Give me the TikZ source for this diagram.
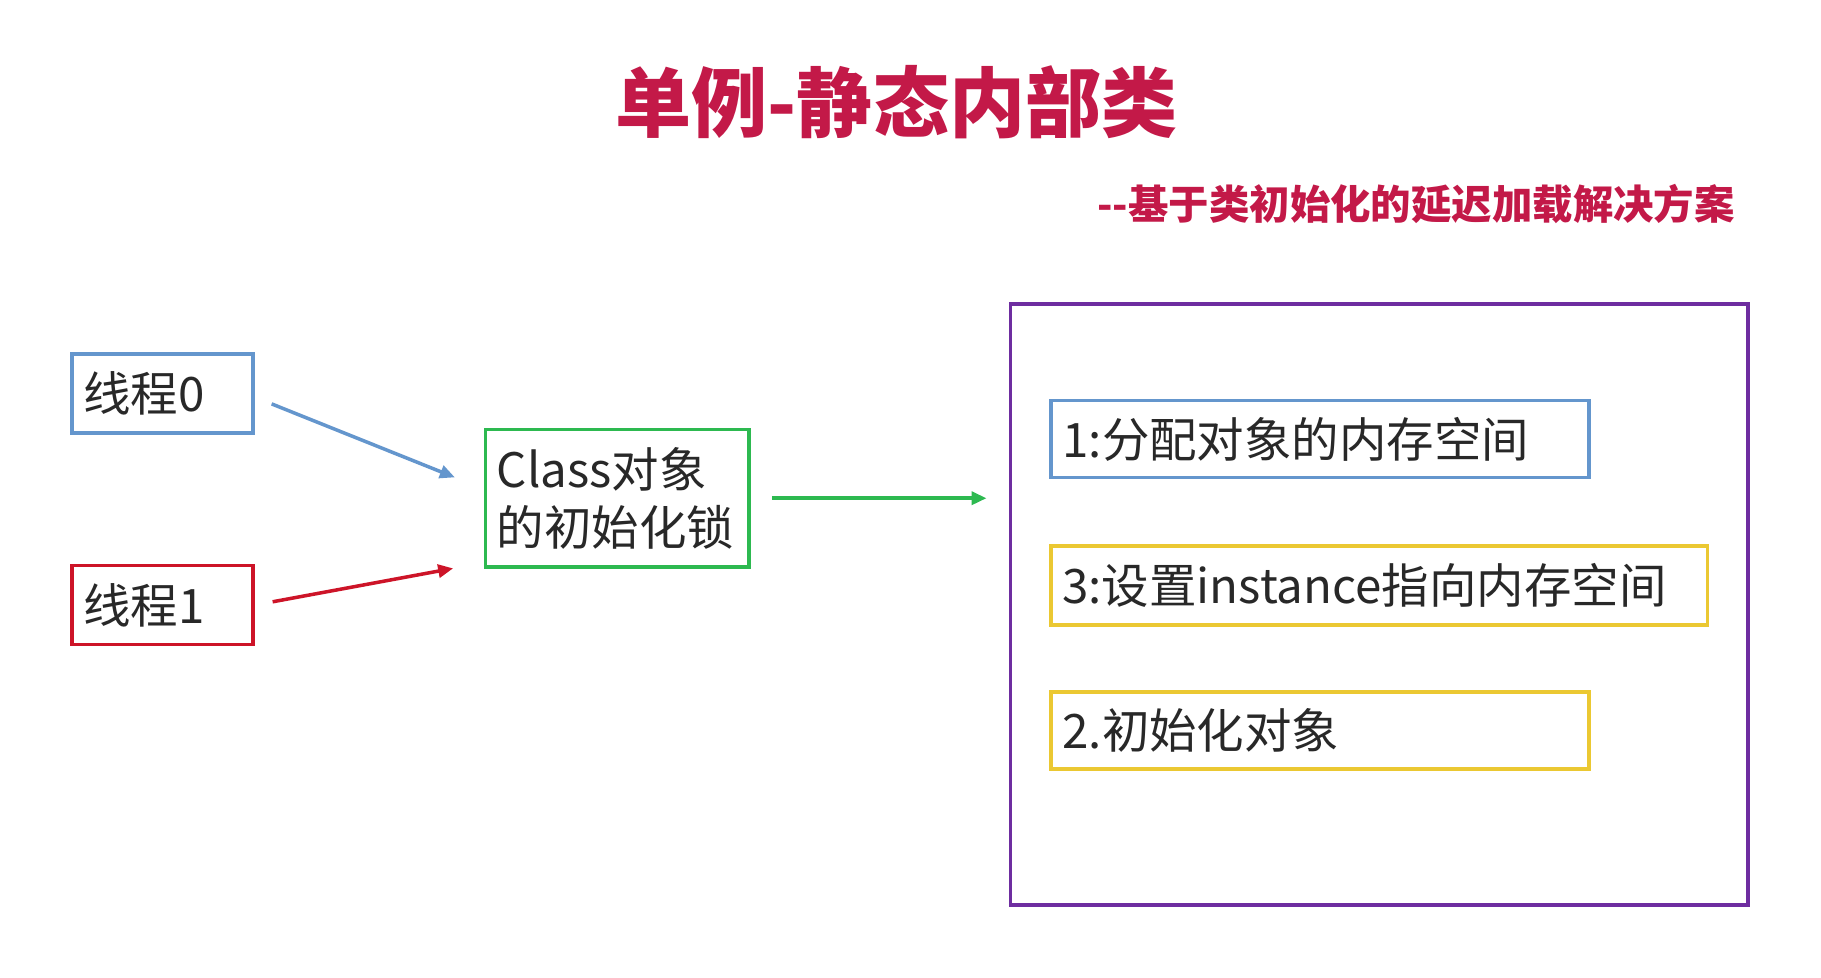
\documentclass[tikz,border=0pt]{standalone}
\usepackage{fontspec}
\setmainfont{Noto Sans CJK SC}
\usetikzlibrary{arrows.meta}
\definecolor{titlec}{RGB}{195,25,72}
\definecolor{bluec}{RGB}{100,150,205}
\definecolor{redc}{RGB}{205,20,40}
\definecolor{greenc}{RGB}{45,185,80}
\definecolor{purplec}{RGB}{110,45,160}
\definecolor{yellowc}{RGB}{235,200,50}
\definecolor{txt}{RGB}{40,40,40}
\tikzset{
  boxbase/.style={draw, line width=2pt, inner xsep=0.23cm, inner ysep=0pt, align=left, text=txt,
     font=\fontsize{27}{33}\selectfont, anchor=center},
  arr/.style={line width=2pt, -{Triangle[length=0.3cm,width=0.26cm]}},
}
\begin{document}
\begin{tikzpicture}[x=0.023228cm,y=-0.023228cm]
\useasboundingbox (0,0) rectangle (1568,842);
\fill[white] (0,0) rectangle (1568,842);
% title
\node[text=titlec, font=\fontsize{43.3}{46}\selectfont\bfseries, inner sep=0pt] (title) at (772,88) {单例-静态内部类};
\node[text=titlec, font=\fontsize{23}{28}\selectfont\bfseries, inner sep=0pt, anchor=east] (sub) at (1494,176) {{-}{-}基于类初始化的延迟加载解决方案};
% threads
\node[boxbase, draw=bluec, text width=3.164cm, minimum height=1.58cm] (t0) at (140,339) {线程0};
\node[boxbase, draw=redc, text width=3.164cm, minimum height=1.58cm] (t1) at (140,521) {线程1};
% class lock
\node[boxbase, draw=greenc, text width=4.813cm, minimum height=2.741cm] (cls) at (531.5,429) {Class对象\\的初始化锁};
% purple container
\node[draw=purplec, line width=2pt, minimum width=14.75cm, minimum height=12.009cm, inner sep=0pt] (pur) at (1187.5,520.5) {};
% steps
\node[boxbase, draw=bluec, text width=10.295cm, minimum height=1.533cm] (s1) at (1136.5,378) {1:分配对象的内存空间};
\node[boxbase, draw=yellowc, text width=12.664cm, minimum height=1.58cm] (s3) at (1187.5,504) {3:设置instance指向内存空间};
\node[boxbase, draw=yellowc, text width=10.295cm, minimum height=1.533cm] (s2) at (1136.5,629) {2.初始化对象};
% arrows
\draw[arr, draw=bluec, fill=bluec, shorten <=0.36cm, shorten >=0.62cm] ([yshift=-0.07cm]t0.east) -- ([yshift=0.186cm]cls.west);
\draw[arr, draw=redc, fill=redc, shorten <=0.36cm, shorten >=0.62cm] (t1.east) -- ([yshift=0.116cm]cls.south west);
\draw[arr, draw=greenc, fill=greenc, shorten <=0.42cm, shorten >=0.44cm] (cls.east) -- (cls.east -| pur.west);
\end{tikzpicture}
\end{document}
